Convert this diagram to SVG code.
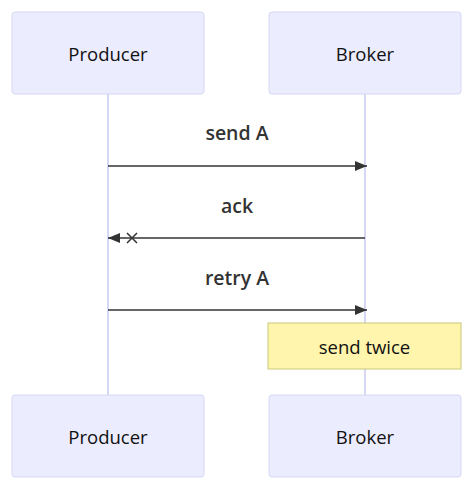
<svg xmlns="http://www.w3.org/2000/svg" width="474" height="491" viewBox="0 0 474 491">
<style>
.actor{fill:#ececff;stroke:#d6d6f5;stroke-width:1}
.atext{font-family:"Open Sans","Noto Sans",sans-serif;font-size:18.5px;fill:#111;text-anchor:middle;dominant-baseline:central}
.life{stroke:#d6d6f5;stroke-width:2}
.msg{stroke:#333;stroke-width:1.5;fill:none}
.mtext{font-family:"Open Sans","Noto Sans",sans-serif;font-size:19.5px;font-weight:600;fill:#333;text-anchor:middle;dominant-baseline:central}
.note{fill:#fff5ad;stroke:#c8c87a;stroke-width:1}
</style>
<defs>
<marker id="arrow" viewBox="0 0 12 10" refX="12" refY="5" markerWidth="12" markerHeight="10" markerUnits="userSpaceOnUse" orient="auto">
<path d="M0,0 L12,5 L0,10 z" fill="#333"/>
</marker>
</defs>
<rect width="474" height="491" fill="#fff"/>
<g id="lifelines">
<line class="life" x1="108" y1="94" x2="108" y2="395"/>
<line class="life" x1="365" y1="94" x2="365" y2="395"/>
</g>
<g id="producer-top"><rect class="actor" x="12" y="12" width="192" height="82" rx="3"/><text class="atext" x="108" y="53">Producer</text></g>
<g id="broker-top"><rect class="actor" x="269" y="12" width="192" height="82" rx="3"/><text class="atext" x="365" y="53">Broker</text></g>
<g id="producer-bottom"><rect class="actor" x="12" y="395" width="192" height="82" rx="3"/><text class="atext" x="108" y="436">Producer</text></g>
<g id="broker-bottom"><rect class="actor" x="269" y="395" width="192" height="82" rx="3"/><text class="atext" x="365" y="436">Broker</text></g>
<g id="connectors">
<line class="msg" x1="108" y1="166" x2="367" y2="166" marker-end="url(#arrow)"/>
<text class="mtext" x="237" y="132">send A</text>
<line class="msg" x1="365" y1="238" x2="108" y2="238" marker-end="url(#arrow)"/>
<path class="msg" d="M127,233 L137,243 M137,233 L127,243"/>
<text class="mtext" x="237" y="205">ack</text>
<line class="msg" x1="108" y1="310" x2="367" y2="310" marker-end="url(#arrow)"/>
<text class="mtext" x="237" y="277">retry A</text>
</g>
<g id="note"><rect class="note" x="268" y="323" width="193" height="46"/><text class="atext" x="364.5" y="346">send twice</text></g>
</svg>
